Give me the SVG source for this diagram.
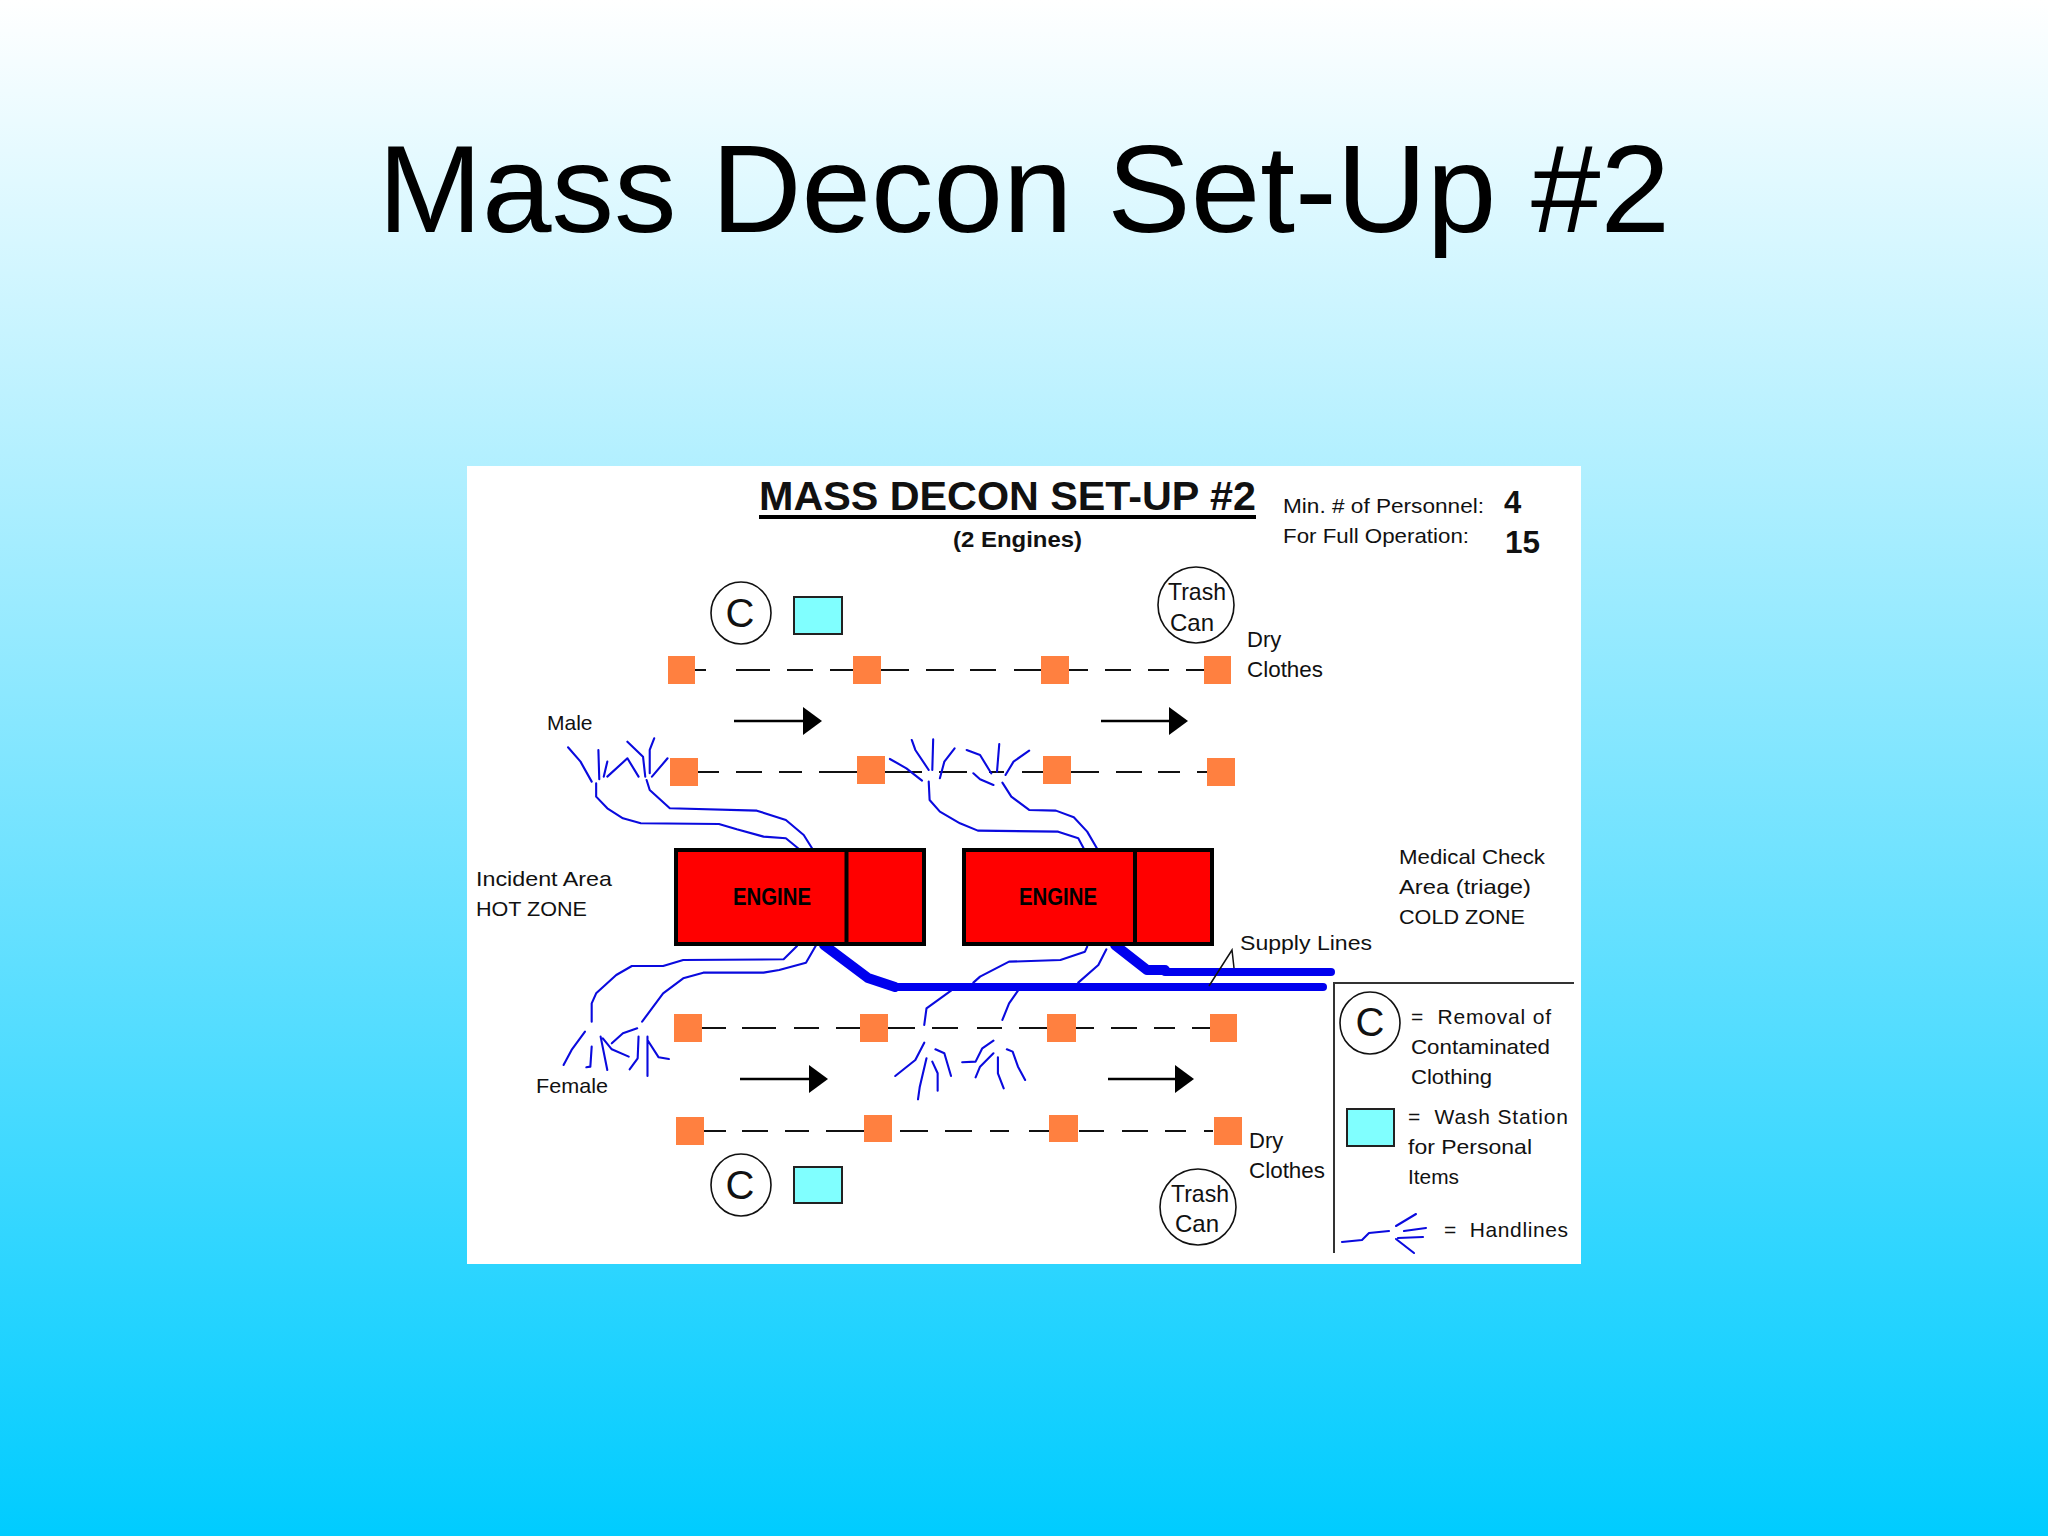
<svg xmlns="http://www.w3.org/2000/svg" width="2048" height="1536" viewBox="0 0 2048 1536">
<defs>
<linearGradient id="bg" x1="0" y1="0" x2="0" y2="1"><stop offset="0" stop-color="#ffffff"/><stop offset="1" stop-color="#00ccff"/></linearGradient>
<marker id="head" markerUnits="userSpaceOnUse" markerWidth="19" markerHeight="28" refX="0" refY="14" orient="auto"><path d="M0 0L19 14L0 28Z" fill="#000"/></marker>
</defs>
<style>
text{font-family:"Liberation Sans",Arial,sans-serif;fill:#111}
.t{font-size:21px}
.b{font-weight:bold}
.m{text-anchor:middle}
.sq{fill:#ff8040}
.cy{fill:#80ffff;stroke:#222;stroke-width:2}
.ring{fill:#fff;stroke:#111;stroke-width:1.6}
.eng{fill:#ff0000;stroke:#000;stroke-width:4}
.dash{fill:none;stroke:#111;stroke-width:2.2}
.arrow{fill:none;stroke:#000;stroke-width:2.4;marker-end:url(#head)}
.thick{fill:none;stroke:#0000ee;stroke-width:8;stroke-linecap:round;stroke-linejoin:round}
.hose{fill:none;stroke:#0a0ade;stroke-width:2.1;stroke-linejoin:round;stroke-linecap:round;vector-effect:non-scaling-stroke}
.rule{fill:none;stroke:#333;stroke-width:2}
.cl{font-size:40px}
</style>
<rect width="2048" height="1536" fill="url(#bg)"/>
<text id="title" x="1024" y="232" font-size="125" class="m" style="fill:#000">Mass Decon Set-Up #2</text>
<rect id="panel" x="467" y="466" width="1114" height="798" fill="#fff"/>

<g id="heading">
<text x="759" y="510" font-size="40" class="b" textLength="497" lengthAdjust="spacingAndGlyphs">MASS DECON SET-UP #2</text>
<rect x="759" y="515" width="497" height="4" fill="#000"/>
<text x="953" y="547" font-size="22" class="b" textLength="129" lengthAdjust="spacingAndGlyphs">(2 Engines)</text>
</g>
<g id="personnel">
<text x="1283" y="513" class="t" textLength="201" lengthAdjust="spacingAndGlyphs">Min. # of Personnel:</text>
<text x="1283" y="543" class="t" textLength="186" lengthAdjust="spacingAndGlyphs">For Full Operation:</text>
<text x="1504" y="513" font-size="31" class="b">4</text>
<text x="1505" y="553" font-size="32" class="b" textLength="35" lengthAdjust="spacingAndGlyphs">15</text>
</g>

<g id="connectors">
<path class="dash" d="M695 670H706M736 670H770M787 670H813M830 670H853M881 670H909M926 670H954M970 670H996M1014 670H1041M1069 670H1088M1105 670H1131M1148 670H1169M1186 670H1204"/>
<path class="dash" d="M697 772H719M736 772H762M779 772H802M819 772H857M885 772H922M939 772H967M989 772H1004M1022 772H1043M1071 772H1099M1116 772H1142M1158 772H1180M1197 772H1207"/>
<path class="dash" d="M702 1028H726M742 1028H776M794 1028H819M836 1028H860M888 1028H915M932 1028H958M977 1028H1002M1019 1028H1047M1076 1028H1094M1111 1028H1137M1154 1028H1175M1192 1028H1210"/>
<path class="dash" d="M704 1131H726M742 1131H768M785 1131H809M826 1131H864M900 1131H928M945 1131H972M990 1131H1009M1029 1131H1049M1079 1131H1104M1122 1131H1148M1165 1131H1186M1204 1131H1213"/>
<path class="arrow" d="M734 721H803"/>
<path class="arrow" d="M1101 721H1169"/>
<path class="arrow" d="M740 1079H809"/>
<path class="arrow" d="M1108 1079H1175"/>
<path class="thick" d="M895 987H1323"/>
<path class="thick" style="stroke-width:10" d="M824 945L868 978L895 987"/>
<path class="thick" d="M1165 972H1331"/>
<path class="thick" style="stroke-width:10" d="M1115 945L1147 970H1165"/>
<path d="M1209 986L1232 950L1234 968" fill="none" stroke="#111" stroke-width="1.5"/>
<g id="handlines-upper" transform="translate(460 460) scale(.4464 .3333)">
<path class="hose" d="M305 970L305 1010L330 1045L365 1075L405 1090L580 1092L620 1108L680 1130L730 1135L760 1168"/>
<path class="hose" d="M418 960L425 990L470 1045L665 1052L730 1080L770 1125L790 1168"/>
<path class="hose" d="M242 862L270 905L295 965M310 870L312 958M330 905L322 950M330 950L375 895L400 950M375 845L410 890L415 950M435 835L425 870L425 940M465 895L430 950"/>
<path class="hose" d="M1050 965L1052 1020L1075 1055L1120 1090L1160 1112L1340 1115L1385 1135L1397 1165"/>
<path class="hose" d="M1215 968L1235 1010L1275 1050L1335 1052L1375 1072L1405 1115L1428 1168"/>
<path class="hose" d="M1012 840L1020 870L1050 930M1060 838L1058 930M1108 865L1085 905L1075 955M963 897L1000 925L1035 962M1135 870L1165 885L1190 940M1208 852L1203 935M1275 872L1240 905L1222 945M1150 940L1165 958L1195 975"/>
</g>
<g id="handlines-lower" transform="translate(460 840) scale(.4464 .3333)">
<path class="hose" d="M755 318L725 358L500 360L455 378L385 378L350 405L305 460L295 490L295 545"/>
<path class="hose" d="M798 315L775 368L715 390L680 398L545 398L500 415L455 460L430 505L408 545"/>
<path class="hose" d="M280 575L250 630L232 675M295 620L292 680L283 682M315 590L330 690M320 595L340 628L378 650M340 610L365 580L397 565M400 590L398 655L380 688M420 590L420 708M420 600L445 652L468 657"/>
<path class="hose" d="M1405 320L1400 335L1345 360L1230 365L1165 410L1150 428M1100 452L1045 505L1040 555"/>
<path class="hose" d="M1448 328L1430 375L1385 428M1250 452L1230 490L1215 540"/>
<path class="hose" d="M1040 608L1020 660L975 708M1045 655L1030 740L1026 778M1058 665L1070 700L1070 752M1065 628L1085 640L1100 708M1125 667L1155 665L1170 625L1195 602M1195 640L1165 680L1155 712M1205 652L1205 700L1218 745M1225 628L1238 635L1250 680L1266 720"/>
</g>
</g>

<g id="barriers">
<rect class="sq" x="668" y="656" width="27" height="28"/><rect class="sq" x="853" y="656" width="28" height="28"/><rect class="sq" x="1041" y="656" width="28" height="28"/><rect class="sq" x="1204" y="656" width="27" height="28"/>
<rect class="sq" x="670" y="758" width="28" height="28"/><rect class="sq" x="857" y="756" width="28" height="28"/><rect class="sq" x="1043" y="756" width="28" height="28"/><rect class="sq" x="1207" y="758" width="28" height="28"/>
<rect class="sq" x="674" y="1014" width="28" height="28"/><rect class="sq" x="860" y="1014" width="28" height="28"/><rect class="sq" x="1047" y="1014" width="29" height="28"/><rect class="sq" x="1210" y="1014" width="27" height="28"/>
<rect class="sq" x="676" y="1117" width="28" height="28"/><rect class="sq" x="864" y="1115" width="28" height="27"/><rect class="sq" x="1049" y="1115" width="29" height="27"/><rect class="sq" x="1214" y="1117" width="28" height="28"/>
</g>

<g id="removal-top"><ellipse class="ring" cx="741" cy="613" rx="30" ry="31"/><text class="cl m" x="740" y="627">C</text></g>
<g id="wash-top"><rect class="cy" x="794" y="597" width="48" height="37"/></g>
<g id="trash-top"><circle class="ring" cx="1196" cy="605" r="38"/><text class="t" x="1168" y="600" textLength="58" lengthAdjust="spacingAndGlyphs" style="font-size:24px">Trash</text><text class="t m" x="1192" y="631" style="font-size:24px">Can</text></g>
<g id="dry-top"><text class="t" x="1247" y="647" style="font-size:22px">Dry</text><text class="t" x="1247" y="677" textLength="76" lengthAdjust="spacingAndGlyphs" style="font-size:22px">Clothes</text></g>
<g id="male"><text class="t" x="547" y="730">Male</text></g>
<g id="female"><text class="t" x="536" y="1093" textLength="72" lengthAdjust="spacingAndGlyphs">Female</text></g>
<g id="hot-zone"><text class="t" x="476" y="886" textLength="136" lengthAdjust="spacingAndGlyphs">Incident Area</text><text class="t" x="476" y="916" textLength="111" lengthAdjust="spacingAndGlyphs">HOT ZONE</text></g>

<g id="engine-1"><rect class="eng" x="676" y="850" width="248" height="94"/><path d="M846.500 850V944" stroke="#000" stroke-width="4"/><text x="733" y="905" font-size="23" class="b" textLength="78" lengthAdjust="spacingAndGlyphs" style="fill:#000">ENGINE</text></g>
<g id="engine-2"><rect class="eng" x="964" y="850" width="248" height="94"/><path d="M1135 850V944" stroke="#000" stroke-width="4"/><text x="1019" y="905" font-size="23" class="b" textLength="78" lengthAdjust="spacingAndGlyphs" style="fill:#000">ENGINE</text></g>

<g id="cold-zone"><text class="t" x="1399" y="864" textLength="146" lengthAdjust="spacingAndGlyphs">Medical Check</text><text class="t" x="1399" y="894" textLength="132" lengthAdjust="spacingAndGlyphs">Area (triage)</text><text class="t" x="1399" y="924" textLength="126" lengthAdjust="spacingAndGlyphs">COLD ZONE</text></g>
<g id="supply-label"><text class="t" x="1240" y="950" textLength="132" lengthAdjust="spacingAndGlyphs">Supply Lines</text></g>

<g id="removal-bottom"><ellipse class="ring" cx="741" cy="1185" rx="30" ry="31"/><text class="cl m" x="740" y="1199">C</text></g>
<g id="wash-bottom"><rect class="cy" x="794" y="1167" width="48" height="36"/></g>
<g id="trash-bottom"><circle class="ring" cx="1198" cy="1207" r="38"/><text class="t" x="1171" y="1202" textLength="58" lengthAdjust="spacingAndGlyphs" style="font-size:24px">Trash</text><text class="t m" x="1197" y="1232" style="font-size:24px">Can</text></g>
<g id="dry-bottom"><text class="t" x="1249" y="1148" style="font-size:22px">Dry</text><text class="t" x="1249" y="1178" textLength="76" lengthAdjust="spacingAndGlyphs" style="font-size:22px">Clothes</text></g>

<g id="legend">
<path class="rule" d="M1574 983H1334V1253"/>
<g id="legend-removal"><ellipse class="ring" cx="1370" cy="1023" rx="30" ry="31"/><text class="cl m" x="1370" y="1036">C</text>
<text class="t" x="1411" y="1024" textLength="140" lengthAdjust="spacing" xml:space="preserve">=  Removal of</text><text class="t" x="1411" y="1054" textLength="139" lengthAdjust="spacingAndGlyphs">Contaminated</text><text class="t" x="1411" y="1084" textLength="81" lengthAdjust="spacingAndGlyphs">Clothing</text></g>
<g id="legend-wash"><rect class="cy" x="1347" y="1109" width="47" height="37"/>
<text class="t" x="1408" y="1124" textLength="160" lengthAdjust="spacing" xml:space="preserve">=  Wash Station</text><text class="t" x="1408" y="1154" textLength="124" lengthAdjust="spacingAndGlyphs">for Personal</text><text class="t" x="1408" y="1184" textLength="51" lengthAdjust="spacingAndGlyphs">Items</text></g>
<g id="legend-handlines"><path class="hose" d="M1342 1242L1362 1240L1369 1233L1389 1231M1396 1226L1416 1214M1404 1231L1426 1228M1398 1238L1423 1237M1396 1239L1414 1253"/>
<text class="t" x="1444" y="1237" textLength="124" lengthAdjust="spacing" xml:space="preserve">=  Handlines</text></g>
</g>
</svg>
